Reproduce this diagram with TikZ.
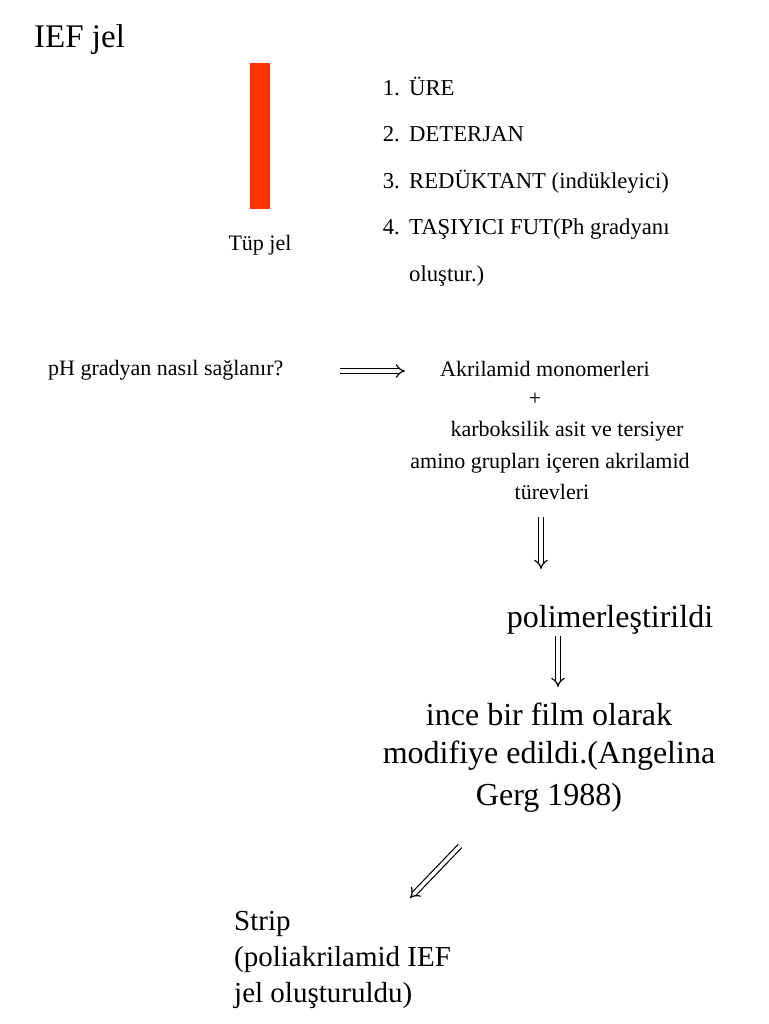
\documentclass[tikz,border=0pt]{standalone}
\usepackage{fontspec}
\setmainfont{Liberation Serif}
\usetikzlibrary{arrows.meta}
\begin{document}
\begin{tikzpicture}[x=1pt,y=-1pt,
  t/.style={inner sep=0pt,font=\fontsize{#1}{#1}\selectfont},
  dbl/.style={double distance=3.5pt,line width=1.2pt,-{Implies[length=7pt]}}]
\useasboundingbox (0,0) rectangle (768,1024);
\fill[white] (0,0) rectangle (768,1024);
\node[t=33,anchor=west] (title) at (34,40) {IEF jel};
\fill[fill={rgb,255:red,255;green,51;blue,0}] (250,63) rectangle (270,209);
\node[t=22] (tup) at (260,245) {Tüp jel};
\foreach \n/\y/\s in {1/96/ÜRE,2/142/DETERJAN,3/189/REDÜKTANT (indükleyici),4/234/TAŞIYICI FUT(Ph gradyanı}{
  \node[t=22.7,anchor=base east] (n\n) at (400,\y) {\n.};
  \node[t=22.7,anchor=base west] (l\n) at (409,\y) {\s};}
\node[t=22.7,anchor=base west] (l5) at (409,281) {oluştur.)};
\node[t=22,anchor=west] (ph) at (48,370) {pH gradyan nasıl sağlanır?};
\node[t=22] (ak1) at (545,369) {Akrilamid monomerleri};
\node[t=22] (plus) at (535,399) {+};
\node[t=22] (ak2) at (567,431) {karboksilik asit ve tersiyer};
\node[t=22] (ak3) at (550,463) {amino grupları içeren akrilamid};
\node[t=22] (ak4) at (552,492) {türevleri};
\node[t=32] (pol) at (610,620) {polimerleştirildi};
\node[t=32] (in1) at (549,714) {ince bir film olarak};
\node[t=32] (in2) at (549,756) {modifiye edildi.(Angelina};
\node[t=32] (in3) at (549,798) {Gerg 1988)};
\node[t=29,anchor=west] (s1) at (234,924) {Strip};
\node[t=29,anchor=west] (s2) at (234,960) {(poliakrilamid IEF};
\node[t=29,anchor=west] (s3) at (234,996) {jel oluşturuldu)};
\coordinate (a1) at (340,371); \coordinate (a2) at (405,371);
\draw[dbl] (a1) -- (a2);
\coordinate (b1) at (541,517); \coordinate (b2) at (541,569);
\draw[dbl] (b1) -- (b2);
\coordinate (c1) at (558,636); \coordinate (c2) at (558,687);
\draw[dbl] (c1) -- (c2);
\coordinate (d1) at (460,846); \coordinate (d2) at (410,898);
\draw[dbl] (d1) -- (d2);
\end{tikzpicture}
\end{document}
